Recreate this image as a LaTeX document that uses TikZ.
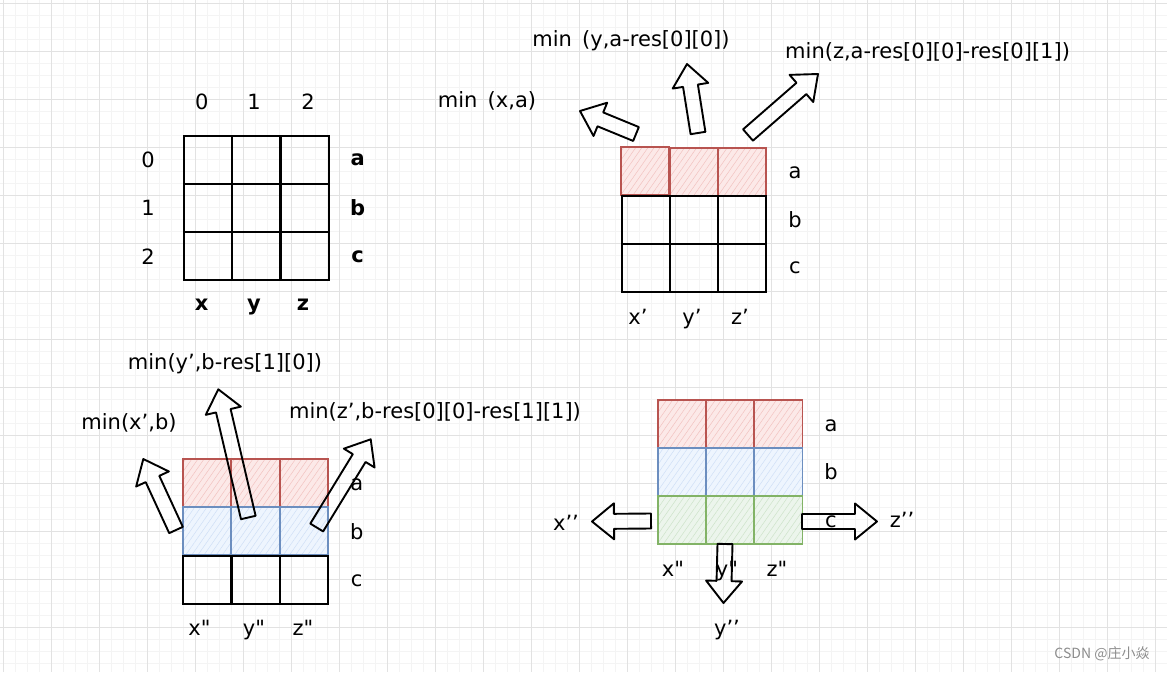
\documentclass[tikz,border=0pt]{standalone}
\usepackage{fontspec}
\setmainfont{DejaVu Sans}[Ligatures=TeXOff]
\newfontfamily\cjkfont{Noto Sans CJK SC}
\usetikzlibrary{calc,patterns.meta}
\definecolor{redS}{HTML}{B85450}
\definecolor{redF}{HTML}{F8CECC}
\definecolor{bluS}{HTML}{6C8EBF}
\definecolor{bluF}{HTML}{DAE8FC}
\definecolor{grnS}{HTML}{82B366}
\definecolor{grnF}{HTML}{D5E8D4}
\definecolor{gridmaj}{HTML}{E2E2E2}
\definecolor{gridmin}{HTML}{F4F4F4}
\tikzset{
  cellbase/.style={rectangle, minimum width=48pt, minimum height=48pt, inner sep=0pt, anchor=north west},
  cellK/.style={cellbase, draw=black, line width=2pt},
  cellR/.style={cellbase, draw=redS, line width=1.6pt, preaction={fill=redF!45},
     pattern={Lines[angle=55,distance=5pt,line width=0.5pt]}, pattern color=redF!90!redS},
  cellB/.style={cellbase, draw=bluS, line width=1.6pt, preaction={fill=bluF!45},
     pattern={Lines[angle=55,distance=5pt,line width=0.5pt]}, pattern color=bluF!90!bluS},
  cellG/.style={cellbase, draw=grnS, line width=1.6pt, preaction={fill=grnF!45},
     pattern={Lines[angle=55,distance=5pt,line width=0.5pt]}, pattern color=grnF!90!grnS},
  lab/.style={inner sep=0pt, font=\fontsize{21}{24}\selectfont},
  blab/.style={lab, font=\fontsize{21}{24}\selectfont\bfseries},
  mintext/.style={inner sep=0pt, font=\fontsize{21}{25}\selectfont},
  arrowline/.style={draw=black, line width=1.9pt, line join=round},
  minorline/.style={draw=gridmin, line width=0.8pt},
  majorline/.style={draw=gridmaj, line width=1pt},
}
\def\hl{22pt}\def\hs{7.5pt}\def\hh{18pt}
\newcommand\blockarw[3]{%
  \coordinate (#1b) at ($(#3)!\hl!(#2)$);
  \draw[arrowline] ($(#2)!\hs!90:(#3)$) -- ($(#1b)!\hs!90:(#3)$) -- ($(#1b)!\hh!90:(#3)$) -- (#3)
    -- ($(#1b)!\hh!-90:(#3)$) -- ($(#1b)!\hs!-90:(#3)$) -- ($(#2)!\hs!-90:(#3)$) -- cycle;
}
\begin{document}
\begin{tikzpicture}[x=1pt,y=-1pt]
\useasboundingbox (0,0) rectangle (1167,672);
\fill[white] (0,0) rectangle (1167,672);
% background grid
\foreach \k in {0,...,97} \draw[minorline] (3+12*\k,0) -- (3+12*\k,672);
\foreach \k in {0,...,55} \draw[minorline] (0,3+12*\k) -- (1167,3+12*\k);
\foreach \k in {0,...,24} \draw[majorline] (3+48*\k,0) -- (3+48*\k,672);
\foreach \k in {0,...,13} \draw[majorline] (0,3+48*\k) -- (1167,3+48*\k);

% ---------- grid 1 ----------
\foreach \r in {0,1,2} \foreach \c in {0,1,2}
  \node[cellK] (g1-\r-\c) at (183+\c*48.3,134.5+\r*48.3) {};
\node[lab] (g1c0) at (201.7,101.7) {0};
\node[lab] (g1c1) at (254,101.7) {1};
\node[lab] (g1c2) at (308,101.7) {2};
\node[lab] (g1r0) at (148,160) {0};
\node[lab] (g1r1) at (148,208) {1};
\node[lab] (g1r2) at (148,256.7) {2};
\node[blab] (g1a) at (357.7,160) {a};
\node[blab] (g1b) at (357.7,208) {b};
\node[blab] (g1cc) at (357.7,257) {c};
\node[blab] (g1x) at (201.7,305) {x};
\node[blab] (g1y) at (254,307) {y};
\node[blab] (g1z) at (303,305) {z};

% ---------- grid 2 ----------
\foreach \c in {0,1,2} \node[cellR] (g2-0-\c) at (621+\c*48,147) {};
\foreach \r in {1,2} \foreach \c in {0,1,2}
  \node[cellK] (g2-\r-\c) at (621+\c*48,147+\r*48) {};
\node[lab] (g2a) at (795,173) {a};
\node[lab] (g2b) at (795,220) {b};
\node[lab] (g2cc) at (795,268) {c};
\node[lab] (g2x) at (638,317) {x’};
\node[lab] (g2y) at (692,319) {y’};
\node[lab] (g2z) at (740,317) {z’};
\node[mintext] (t1) at (487,101) {min\, (x,a)};
\node[mintext] (t2) at (631,41) {min\, (y,a-res[0][0])};
\node[mintext] (t3) at (927.6,52) {min(z,a-res[0][0]-res[0][1])};
\coordinate (a1t) at (636,134); \coordinate (a1h) at (580,111);
\coordinate (a2t) at (698,133); \coordinate (a2h) at (687,64);
\coordinate (a3t) at (748,135); \coordinate (a3h) at (818,74);
\blockarw{a1}{a1t}{a1h}
\blockarw{a2}{a2t}{a2h}
\blockarw{a3}{a3t}{a3h}

% ---------- grid 3 ----------
\foreach \c in {0,1,2} \node[cellR] (g3-0-\c) at (182+\c*48.5,458) {};
\foreach \c in {0,1,2} \node[cellB] (g3-1-\c) at (182+\c*48.5,506.4) {};
\foreach \c in {0,1,2} \node[cellK] (g3-2-\c) at (182+\c*48.5,554.8) {};
\node[lab] (g3a) at (356.7,485) {a};
\node[lab] (g3b) at (356.7,531.7) {b};
\node[lab] (g3cc) at (356.7,580.7) {c};
\node[lab] (g3x) at (199.5,628) {x"};
\node[lab] (g3y) at (254,630) {y"};
\node[lab] (g3z) at (303,628) {z"};
\node[mintext] (t4) at (129,423) {min(x’,b)};
\node[mintext] (t5) at (225,364) {min(y’,b-res[1][0])};
\node[mintext] (t6) at (435,412) {min(z’,b-res[0][0]-res[1][1])};
\coordinate (b1t) at (176,530); \coordinate (b1h) at (143.3,459);
\coordinate (b2t) at (248.3,517.5); \coordinate (b2h) at (218.3,389.3);
\coordinate (b3t) at (316.7,527.5); \coordinate (b3h) at (370.7,439.3);
\blockarw{b1}{b1t}{b1h}
\blockarw{b2}{b2t}{b2h}
\blockarw{b3}{b3t}{b3h}

% ---------- grid 4 ----------
\foreach \c in {0,1,2} \node[cellR] (g4-0-\c) at (657+\c*48.3,399) {};
\foreach \c in {0,1,2} \node[cellB] (g4-1-\c) at (657+\c*48.3,447.1) {};
\foreach \c in {0,1,2} \node[cellG] (g4-2-\c) at (657+\c*48.3,495.2) {};
\node[lab] (g4a) at (831,425.7) {a};
\node[lab] (g4b) at (831,471.7) {b};
\node[lab] (g4cc) at (831,521.7) {c};
\node[lab] (g4x) at (673,569) {x"};
\node[lab] (g4y) at (727,571) {y"};
\node[lab] (g4z) at (777,569) {z"};
\node[lab] (g4xs) at (566,523) {x’’};
\node[lab] (g4zs) at (902,520) {z’’};
\node[lab] (g4ys) at (727,630) {y’’};
\coordinate (c1t) at (651,521); \coordinate (c1h) at (592,521.5);
\coordinate (c2t) at (802,521.5); \coordinate (c2h) at (877,521.5);
\coordinate (c3t) at (725,544); \coordinate (c3h) at (723.5,603);
\blockarw{c1}{c1t}{c1h}
\blockarw{c2}{c2t}{c2h}
\blockarw{c3}{c3t}{c3h}

% watermark
\node[inner sep=0pt, text=black!45, font=\cjkfont\fontsize{14}{16}\selectfont] (wm) at (1102,654) {CSDN @庄小焱};
\end{tikzpicture}
\end{document}
